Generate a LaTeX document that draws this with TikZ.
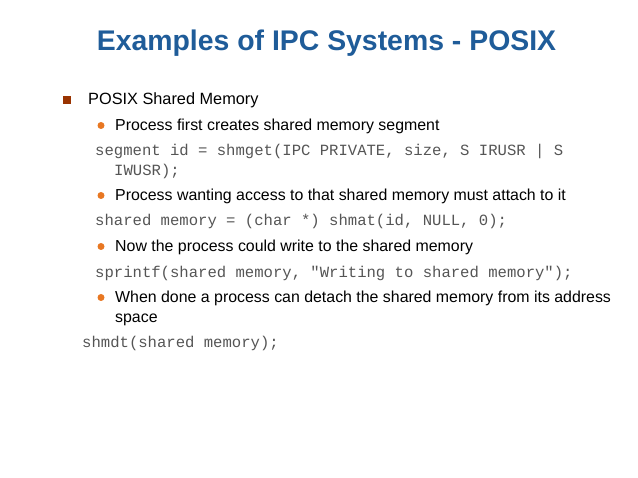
\documentclass[tikz,border=0pt]{standalone}
\usepackage{fontspec}
\setmainfont{Liberation Sans}
\newfontfamily\codefont{Liberation Mono}
\definecolor{titleblue}{HTML}{1F5C99}
\definecolor{sqred}{HTML}{993300}
\definecolor{dotorange}{HTML}{E87722}
\definecolor{codegray}{HTML}{555555}
\tikzset{
 title/.style={anchor=base,font=\fontsize{28.4}{32}\selectfont\bfseries,text=titleblue,inner sep=0},
 lvlone/.style={anchor=base west,font=\fontsize{16.3}{19}\selectfont,inner sep=0},
 lvltwo/.style={anchor=base west,font=\fontsize{15.9}{19}\selectfont,inner sep=0,align=left},
 code/.style={anchor=base west,font=\codefont\fontsize{15.6}{20}\selectfont,text=codegray,inner sep=0,align=left},
 dot/.style={circle,fill=dotorange,minimum size=7pt,inner sep=0},
 sq/.style={rectangle,fill=sqred,minimum size=8.5pt,inner sep=0}
}
\begin{document}
\begin{tikzpicture}[x=1pt,y=-1pt]
\useasboundingbox (0,0) rectangle (638,478);
\node[title] (t) at (326.5,51) {Examples of IPC Systems - POSIX};
\node[sq] (s1) at (67,100) {};
\node[lvlone] (l1) at (88,105) {POSIX Shared Memory};
\node[dot] (d1) at (101,125.5) {};
\node[lvltwo] (b1) at (115,131) {Process first creates shared memory segment};
\node[code] (c1) at (95,156) {segment id = shmget(IPC PRIVATE, size, S IRUSR | S};
\node[code] (c1b) at (114,176) {IWUSR);};
\node[dot] (d2) at (101,195.5) {};
\node[lvltwo] (b2) at (115,201) {Process wanting access to that shared memory must attach to it};
\node[code] (c2) at (95,226) {shared memory = (char *) shmat(id, NULL, 0);};
\node[dot] (d3) at (101,246.5) {};
\node[lvltwo] (b3) at (115,252) {Now the process could write to the shared memory};
\node[code] (c3) at (95,278) {sprintf(shared memory, "Writing to shared memory");};
\node[dot] (d4) at (101,297.5) {};
\node[lvltwo] (b4) at (115,303) {When done a process can detach the shared memory from its address};
\node[lvltwo] (b4b) at (115,323) {space};
\node[code] (c4) at (82,348) {shmdt(shared memory);};
\end{tikzpicture}
\end{document}
